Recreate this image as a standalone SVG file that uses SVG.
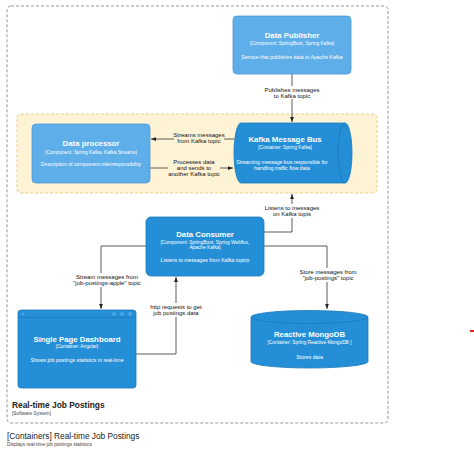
<svg xmlns="http://www.w3.org/2000/svg" width="474" height="449" viewBox="0 0 474 449">
<defs>
<style>
text{font-family:"Liberation Sans",Arial,sans-serif}
.t{font-size:7.8px;font-weight:bold;fill:#fff;text-anchor:middle}
.k{font-size:4.8px;fill:#fff;text-anchor:middle}
.d{font-size:5.2px;fill:#fff;text-anchor:middle}
.l{font-size:6px;fill:#111;text-anchor:middle}
.light{fill:#5eaee9;stroke:#4b9bd6;stroke-width:0.8}
.dark{fill:#248fd7;stroke:#1b78ba;stroke-width:0.8}
.c{fill:none;stroke:#333;stroke-width:0.8;marker-end:url(#ah)}
.wb{fill:#fff}
.yb{fill:#fff3d6}
</style>
<marker id="ah" viewBox="0 0 8 6" refX="8" refY="3" markerWidth="5" markerHeight="4" markerUnits="userSpaceOnUse" orient="auto"><path d="M0,0 L8,3 L0,6 z" fill="#222"/></marker>
</defs>
<rect width="474" height="449" fill="#fff"/>
<g id="boundary">
<rect x="7" y="6" width="381" height="417" rx="4" fill="none" stroke="#8a8a8a" stroke-width="0.9" stroke-dasharray="3,2"/>
<text x="12" y="408" style="font-size:8.4px;font-weight:bold;fill:#222">Real-time Job Postings</text>
<text x="12" y="415" style="font-size:4.8px;fill:#444">[Software System]</text>
</g>
<g id="group-kafka">
<rect x="17" y="114" width="360" height="79" rx="4" fill="#fff3d6" stroke="#e0c36a" stroke-width="0.8" stroke-dasharray="3,2"/>
</g>
<g id="connectors">
<path class="c" d="M292,74 V122"/>
<path class="c" d="M234,139 H151"/>
<path class="c" d="M150,168 H233"/>
<path class="c" d="M264,232 H292 V194"/>
<path class="c" d="M264,246 H327 V309"/>
<path class="c" d="M146,246 H101 V309"/>
<path class="c" d="M136,354 H176 V277"/>
<rect class="wb" x="264" y="86" width="56" height="13"/>
<text class="l" x="292" y="92">Publishes messages</text>
<text class="l" x="292" y="98">to Kafka topic</text>
<rect class="yb" x="174" y="131" width="50" height="14"/>
<text class="l" x="199" y="137">Streams messages</text>
<text class="l" x="199" y="143">from Kafka topic</text>
<rect class="yb" x="168" y="158" width="52" height="19"/>
<text class="l" x="194" y="163.5">Processes data</text>
<text class="l" x="194" y="169.5">and sends to</text>
<text class="l" x="194" y="175.5">another Kafka topic</text>
<rect class="wb" x="263" y="204" width="58" height="14"/>
<text class="l" x="292" y="210">Listens to messages</text>
<text class="l" x="292" y="216">on Kafka topis</text>
<rect class="wb" x="297" y="268" width="62" height="14"/>
<text class="l" x="328" y="274">Store messages from</text>
<text class="l" x="328" y="280">"job-postings" topic</text>
<rect class="wb" x="74" y="273" width="66" height="14"/>
<text class="l" x="107" y="279">Stream messages from</text>
<text class="l" x="107" y="285">"job-postings-apple" topic</text>
<rect class="wb" x="150" y="303" width="52" height="14"/>
<text class="l" x="176" y="309">http requests to get</text>
<text class="l" x="176" y="315">job postings data</text>
</g>
<g id="data-publisher">
<rect class="light" x="233" y="16" width="118" height="58" rx="4"/>
<text class="t" x="292" y="38">Data Publisher</text>
<text class="k" x="292" y="45">[Component: SpringBoot, Spring Kafka]</text>
<text class="d" x="292" y="59">Service that publishes data to Apache Kafka</text>
</g>
<g id="data-processor">
<rect class="light" x="32" y="124" width="118" height="59" rx="4"/>
<text class="t" x="91" y="146">Data processor</text>
<text class="k" x="91" y="154">[Component: Spring Kafka, Kafka Streams]</text>
<text class="d" x="91" y="165.5">Description of component role/responsibility</text>
</g>
<g id="kafka-bus">
<path class="dark" d="M241,123 H345 A7,30 0 0 1 345,183 H241 A7,30 0 0 1 241,123 Z"/>
<path d="M345,123 A7,30 0 0 0 345,183" fill="none" stroke="#1b78ba" stroke-width="0.8"/>
<text class="t" x="285" y="142">Kafka Message Bus</text>
<text class="k" x="285" y="149">[Container: Spring Kafka]</text>
<text class="d" x="282" y="164">Streaming message bus responsible for</text>
<text class="d" x="282" y="170">handling traffic flow data</text>
</g>
<g id="data-consumer">
<rect class="dark" x="146" y="217" width="118" height="59" rx="5"/>
<text class="t" x="205" y="236.5">Data Consumer</text>
<text class="k" x="205" y="243.5">[Component: SpringBoot, Spring Webflux,</text>
<text class="k" x="205" y="249">Apache Kafka]</text>
<text class="d" x="205" y="262">Listens to messages from Kafka topics</text>
</g>
<g id="dashboard">
<rect class="dark" x="18" y="310" width="118" height="78" rx="3"/>
<line x1="18.5" y1="317.5" x2="135.5" y2="317.5" stroke="#1b78ba" stroke-width="0.8"/>
<circle cx="23" cy="314" r="1.3" fill="#4aa6e6"/>
<circle cx="114" cy="314" r="2" fill="#4aa6e6"/>
<circle cx="122" cy="314" r="2" fill="#4aa6e6"/>
<circle cx="130" cy="314" r="2" fill="#4aa6e6"/>
<text class="t" x="77" y="341.5">Single Page Dashboard</text>
<text class="k" x="77" y="348">[Container: Angular]</text>
<text class="d" x="77" y="361.5">Shows job postings statistics in real-time</text>
</g>
<g id="mongodb">
<path class="dark" d="M251,317 A58.5,6.5 0 0 1 368,317 V361.5 A58.5,6.5 0 0 1 251,361.5 Z"/>
<path d="M251,317 A58.5,6.5 0 0 0 368,317" fill="none" stroke="#1b78ba" stroke-width="0.8"/>
<text class="t" x="309.5" y="337">Reactive MongoDB</text>
<text class="k" x="309.5" y="344">[Container: Spring Reactive MongoDB ]</text>
<text class="d" x="309.5" y="359">Stores data</text>
</g>
<g id="diagram-title">
<text x="7" y="438.5" style="font-size:8.3px;fill:#222">[Containers] Real-time Job Postings</text>
<text x="7" y="446" style="font-size:4.8px;fill:#444">Displays real-time job postings statistics</text>
</g>
<rect x="470" y="330" width="4" height="2" fill="#d9261c"/>
</svg>
